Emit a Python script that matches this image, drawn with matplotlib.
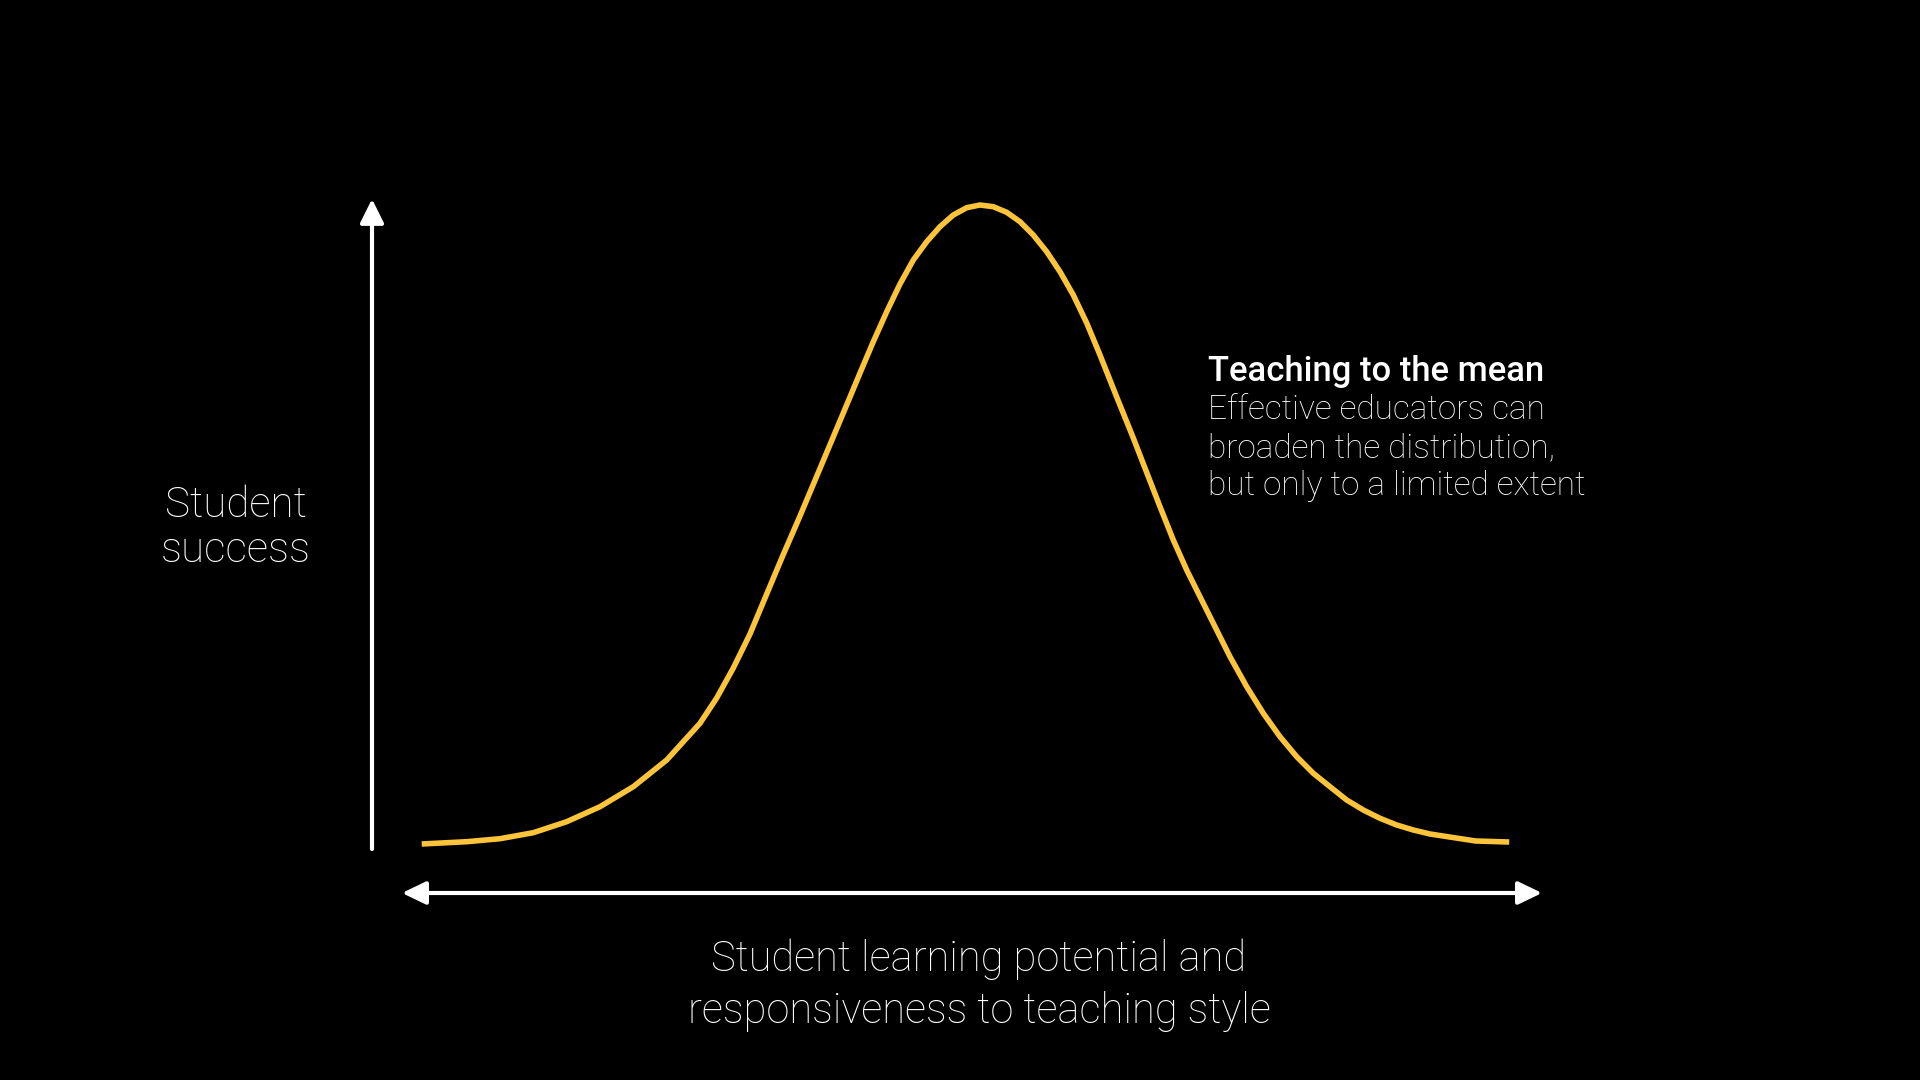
import matplotlib
matplotlib.use("Agg")
import matplotlib.pyplot as plt

# ---- data ----
# learning potential (horizontal) and student success (vertical)
potential = [49.7, 94.7, 128, 161.3, 194.7, 228, 261.3, 294.7, 328, 344.7, 361.3,
             378, 394.7, 411.3, 428, 444.7, 461.3, 478, 489.7, 501.3, 514.7,
             528, 541.3, 554.7, 568, 581.3, 594.7, 608, 621.3, 634.7, 648,
             661.3, 674.7, 688, 701.3, 714.7, 728, 744.7, 761.3, 774.7, 788,
             801.3, 814.7, 828, 841.3, 858, 874.7, 891.3, 908, 924.7, 941.3,
             958, 974.7, 991.3, 1008, 1024.7, 1041.3, 1058, 1103.7, 1137.2]
success = [5, 7.3, 10.3, 16.3, 27.3, 42.3, 62.3, 89, 125.7, 151, 181,
           215, 255, 294.5, 333, 372.7, 412.2, 452, 480, 507.3, 537.3,
           565, 589, 607.3, 622.3, 634, 641.3, 644, 642.3, 636.7, 627.3,
           614, 597.3, 577.3, 554, 526, 494, 452, 411, 376.5, 342.3,
           309, 279, 252.3, 225.7, 192.3, 162.3, 135.7, 112.3, 92.3, 75.7,
           62.3, 49, 39, 30.7, 24, 19, 15, 8, 7]

y_label = ["Student", "success"]
x_label = ["Student learning potential and",
           "responsiveness to teaching style"]
note_title = "Teaching to the mean"
note_lines = ["Effective educators can",
              "broaden the distribution,",
              "but only to a limited extent"]

CURVE = "#FCC43A"
W, H = 1920, 1080
OX, OY = 372, 849  # pixel position of the origin

fig = plt.figure(figsize=(19.2, 10.8), dpi=100, facecolor="black")
ax = fig.add_axes([0, 0, 1, 1])
ax.set_facecolor("black")
ax.set_xlim(-OX, W - OX)
ax.set_ylim(OY - H, OY)
ax.axis("off")

ax.plot(potential, success, color=CURVE, lw=4.0, solid_capstyle="butt",
        solid_joinstyle="round", zorder=3)

# axes arrows
ax.annotate("", xy=(0, 650), xytext=(0, 0),
            arrowprops=dict(arrowstyle="-|>,head_length=1.45,head_width=0.72",
                            mutation_scale=10, color="white", lw=3.0,
                            shrinkA=0, shrinkB=0))
ax.annotate("", xy=(1170, -44), xytext=(30, -44),
            arrowprops=dict(arrowstyle="<|-|>,head_length=1.45,head_width=0.7",
                            mutation_scale=10, color="white", lw=3.0,
                            shrinkA=0, shrinkB=0))

def fx(px):
    return px / W

def fy(py):
    return 1 - py / H

FAM = ["Roboto", "DejaVu Sans"]

for txt, base in zip(y_label, [517, 562]):
    fig.text(fx(236), fy(base), txt, color="white", fontsize=30.3,
             family=FAM, weight="light", ha="center", va="baseline")
for txt, base in zip(x_label, [971, 1023]):
    fig.text(fx(979), fy(base), txt, color="white", fontsize=30,
             family=FAM, weight="light", ha="center", va="baseline")

fig.text(fx(1208), fy(381), note_title, color="white", fontsize=24.9,
         family=FAM, weight="medium", ha="left", va="baseline")
for i, line in enumerate(note_lines):
    fig.text(fx(1208), fy(419 + 38 * i), line, color="white", fontsize=24,
             family=FAM, weight="light", ha="left", va="baseline")

fig.savefig("out.png", dpi=100, facecolor="black")
